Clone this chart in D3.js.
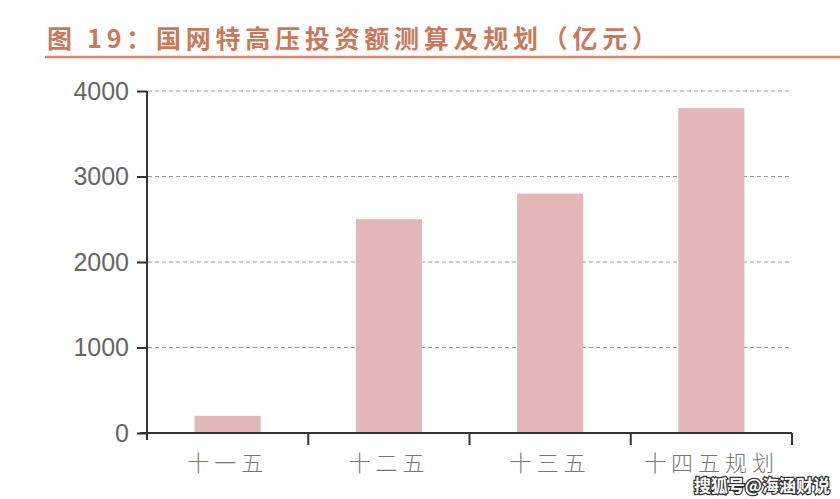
<!DOCTYPE html>
<html><head><meta charset="utf-8">
<script src="https://cdn.jsdelivr.net/npm/d3@7/dist/d3.min.js"></script>
<style>body{margin:0;background:#fff;}svg{display:block;}</style>
</head><body>
<script>
const categories = ["十一五", "十二五", "十三五", "十四五规划"];
const values = [200, 2500, 2800, 3800];
const yTicks = [0, 1000, 2000, 3000, 4000];
const titleText = "图 19：国网特高压投资额测算及规划（亿元）";
const watermark = "搜狐号@海涵财说";

const W = 840, H = 499;
const svg = d3.select("body").append("svg").attr("width", W).attr("height", H);

const x = d3.scaleBand().domain(categories).range([147, 792]).paddingInner(0.59).paddingOuter(0.295);
const xb = d3.scaleBand().domain(categories).range([147, 792]);
const y = d3.scaleLinear().domain([0, 4000]).range([433, 91]);

// title
svg.append("text").attr("x", 47).attr("y", 48)
  .attr("font-family", "Noto Sans CJK SC").attr("font-weight", "bold").attr("font-size", 25)
  .attr("fill", "#c9795a").attr("textLength", 610).attr("lengthAdjust", "spacing").text(titleText);
svg.append("line").attr("x1", 45).attr("x2", 840).attr("y1", 57).attr("y2", 57)
  .attr("stroke", "#d9896a").attr("stroke-width", 2.5);

// grid
svg.append("g").selectAll("line").data(yTicks.filter(d => d > 0)).join("line")
  .attr("x1", 148).attr("x2", 792).attr("y1", d => y(d)).attr("y2", d => y(d))
  .attr("stroke", "#999").attr("stroke-width", 1.2).attr("stroke-dasharray", "4,3");

// bars
svg.append("g").selectAll("rect").data(values).join("rect")
  .attr("x", (d, i) => x(categories[i])).attr("width", x.bandwidth())
  .attr("y", d => y(d)).attr("height", d => y(0) - y(d))
  .attr("fill", "#e4b7b7");

// y axis
const yAxis = svg.append("g").attr("transform", "translate(147,0)")
  .call(d3.axisLeft(y).tickValues(yTicks).tickFormat(d3.format("d")).tickSize(10).tickPadding(8));
yAxis.select(".domain").attr("stroke", "#333").attr("stroke-width", 2).attr("d", "M0,91V440");
yAxis.selectAll(".tick line").attr("stroke", "#333").attr("stroke-width", 2);
yAxis.selectAll(".tick text").attr("font-family", "Liberation Sans, Arial").attr("font-size", 25).attr("fill", "#666");

// x axis
const xAxis = svg.append("g").attr("transform", "translate(0,433)")
  .call(d3.axisBottom(xb).tickSize(0).tickPadding(22));
xAxis.select(".domain").attr("stroke", "#333").attr("stroke-width", 2).attr("d", "M140,0H792");
xAxis.selectAll(".tick text").attr("font-family", "Noto Sans CJK SC").attr("font-size", 22)
  .attr("fill", "#777").attr("font-weight", 300).attr("letter-spacing", 5);
// boundary ticks
svg.append("g").selectAll("line").data(categories.slice(1).concat(["__end"])).join("line")
  .attr("x1", d => d === "__end" ? 792 : xb(d)).attr("x2", d => d === "__end" ? 792 : xb(d))
  .attr("y1", 433).attr("y2", 445).attr("stroke", "#333").attr("stroke-width", 2);

// watermark
svg.append("text").attr("x", 830).attr("y", 492).attr("text-anchor", "end")
  .attr("font-family", "Noto Sans CJK SC").attr("font-weight", "bold").attr("font-size", 17)
  .attr("fill", "#fff").attr("stroke", "#333").attr("stroke-width", 2.5).attr("paint-order", "stroke")
  .text(watermark);
</script>
</body></html>
